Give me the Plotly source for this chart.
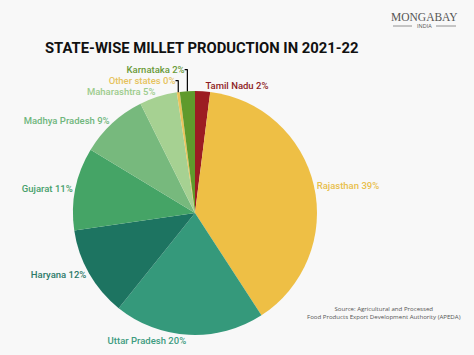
import plotly.graph_objects as go

states = ["Tamil Nadu", "Rajasthan", "Uttar Pradesh", "Haryana", "Gujarat",
          "Madhya Pradesh", "Maharashtra", "Other states", "Karnataka"]
shares = [2, 39, 20, 12, 11, 9, 5, 0.4, 2]
slice_colors = ["#9c1c22", "#eebf45", "#35997b", "#1d7461", "#45a466",
                "#77b97d", "#a6d192", "#e9c45c", "#5f9a2c"]
label_colors = ["#8e1d24", "#e8bf4c", "#3e9c80", "#2d7a68", "#47a06b",
                "#6fb67c", "#9dcc8d", "#e6c35e", "#6a9a38"]

fig = go.Figure(go.Pie(
    labels=states, values=shares, sort=False, direction="clockwise", rotation=0,
    marker=dict(colors=slice_colors, line=dict(width=0)),
    textposition="outside", texttemplate="%{label} %{percent:.0%}",
    textfont=dict(family="Roboto", size=9.5, color=label_colors, weight=500),
    showlegend=False, hoverinfo="label+percent",
    domain=dict(x=[73/474, 317/474], y=[20/355, 264/355]),
))

fig.update_layout(
    width=474, height=355, margin=dict(l=0, r=0, t=0, b=0, autoexpand=False),
    paper_bgcolor="#f8f8f8", plot_bgcolor="#f8f8f8",
    annotations=[
        dict(text="<b>STATE-WISE MILLET PRODUCTION IN 2021-22</b>", x=43/474, y=1-48/355,
             xref="paper", yref="paper", xanchor="left", yanchor="middle", showarrow=False,
             font=dict(family="Roboto", size=14.8, color="#111111")),
        dict(text="MONGABAY", x=424/474, y=1-17/355, xref="paper", yref="paper",
             xanchor="center", yanchor="middle", showarrow=False,
             font=dict(family="Liberation Serif, DejaVu Serif", size=11.5, color="#555555")),
        dict(text="INDIA", x=424/474, y=1-26/355, xref="paper", yref="paper",
             xanchor="center", yanchor="middle", showarrow=False,
             font=dict(family="Open Sans", size=5.5, color="#555555")),
        dict(text="Source: Agricultural and Processed<br>Food Products Export Development Authority (APEDA)",
             x=384/474, y=1-312/355, xref="paper", yref="paper", xanchor="center", yanchor="middle",
             showarrow=False, align="center",
             font=dict(family="Open Sans", size=6.1, color="#555555")),
    ],
    shapes=[
        dict(type="line", xref="paper", yref="paper", x0=393/474, x1=412/474, y0=1-26/355, y1=1-26/355,
             line=dict(color="#777777", width=0.8)),
        dict(type="line", xref="paper", yref="paper", x0=436/474, x1=456/474, y0=1-26/355, y1=1-26/355,
             line=dict(color="#777777", width=0.8)),
    ],
)

fig.write_html("out.html", config={"displayModeBar": False},
               post_script="document.body.style.margin='0';document.body.style.background='#f8f8f8';")
